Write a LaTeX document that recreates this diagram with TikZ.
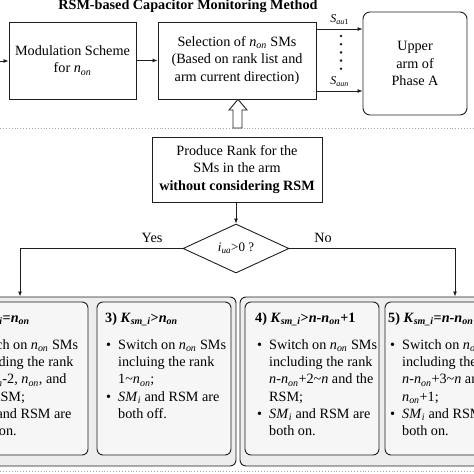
\documentclass[tikz,border=0pt]{standalone}
\usepackage{fontspec}
\setmainfont{Liberation Serif}
\usetikzlibrary{shapes.geometric,arrows.meta}
\definecolor{linec}{HTML}{1E1E1E}
\definecolor{outerfill}{HTML}{EDEDED}
\definecolor{innerfill}{HTML}{F6F6F6}
\newcommand{\nOn}{\textit{n}\textsubscript{\textit{on}}}
\newcommand{\SMi}{\textit{SM}\textsubscript{\textit{i}}}
\newcommand{\Ksm}{\textit{K}\textsubscript{\textit{sm\_i}}}
\newcommand{\tld}{\textasciitilde}
\newcommand{\blist}[1]{\begin{tabular}{@{}l@{\hspace{7pt}}l@{}}#1\end{tabular}}
\begin{document}
\begin{tikzpicture}[x=1pt,y=-1pt,
  font=\fontsize{14.2}{17.3}\selectfont,
  box/.style={draw=linec,line width=0.9pt,align=center,inner sep=0pt},
  arr/.style={draw=linec,line width=0.8pt,-{Latex[length=5pt,width=4pt]}},
  panel/.style={draw=linec,line width=0.9pt,rounded corners=6pt,fill=outerfill,inner sep=0pt},
  casebox/.style={draw=linec,line width=0.9pt,rounded corners=6pt,fill=innerfill,inner sep=0pt,minimum width=134pt,minimum height=153pt},
  head/.style={anchor=base west,inner sep=0pt},
  blt/.style={anchor=north west,inner sep=0pt,align=left},
  sep/.style={draw=gray!70,dotted,line width=0.9pt}]
\useasboundingbox (0,0) rectangle (474,474);
\clip (0,0) rectangle (474,474);

% title
\node[anchor=base,inner sep=0pt] (title) at (188,9) {\textbf{RSM-based Capacitor Monitoring Method}};

% top row
\coordinate (in) at (-2,61);
\node[box,minimum width=127pt,minimum height=77pt] (mod) at (72.5,60.5) {Modulation Scheme\\for \nOn};
\node[box,minimum width=158pt,minimum height=77pt] (sel) at (237,60.5) {Selection of \nOn{} SMs\\(Based on rank list and\\arm current direction)};
\node[box,rounded corners=7pt,minimum width=104pt,minimum height=103pt] (arm) at (415,63.5) {Upper\\arm of\\Phase A};
\draw[arr] (in) -- (mod.west |- in);
\draw[arr] (mod.east) -- (sel.west);
\coordinate (s1) at (340,29);
\coordinate (sn) at (340,91);
\draw[arr] (sel.east |- s1) -- (arm.west |- s1) node[pos=0.5,above=0.5pt,font=\fontsize{12}{14}\selectfont] (l1) {\textit{S}\textsubscript{\textit{au}1}};
\draw[arr] (sel.east |- sn) -- (arm.west |- sn) node[pos=0.5,above=0.5pt,font=\fontsize{12}{14}\selectfont] (ln) {\textit{S}\textsubscript{\textit{aun}}};
\foreach \yy in {36,44.2,52.4,60.6,68.8}
  \fill[linec] (341,\yy) circle (1.4pt);

% separator lines
\draw[sep] (0,128) -- (474,128);
\draw[sep] (0,471) -- (474,471);

% hollow arrow
\draw[linec,line width=0.9pt,fill=white]
  ([xshift=-4pt]sel.south |- 0,128) -- ([xshift=-4pt]sel.south |- 0,110) -- ([xshift=-8pt]sel.south |- 0,110)
  -- ([xshift=1pt]sel.south) -- ([xshift=10pt]sel.south |- 0,110) -- ([xshift=5pt]sel.south |- 0,110)
  -- ([xshift=5pt]sel.south |- 0,128) -- cycle;

% rank + decision
\node[box,minimum width=170pt,minimum height=65pt] (rank) at (237,169.5) {Produce Rank for the\\SMs in the arm\\\textbf{without considering RSM}};
\node[box,shape=diamond,minimum width=106pt,minimum height=49pt,font=\fontsize{13}{15}\selectfont] (dia) at (236,248.5) {\textit{i}\textsubscript{\textit{ua}}>0 ?};
\draw[arr] (rank.south -| dia.north) -- (dia.north);
\coordinate (yesend) at (20,296.5);
\coordinate (noend) at (455,296.5);
\draw[arr] (dia.west) -| (yesend);
\draw[arr] (dia.east) -| (noend);
\node[inner sep=0pt] (yes) at (152,238) {Yes};
\node[inner sep=0pt] (no) at (323,238) {No};

% panels
\node[panel,minimum width=289pt,minimum height=169pt] (lg) at (91.5,381.5) {};
\node[panel,minimum width=284pt,minimum height=169pt] (rg) at (382,381.5) {};
\node[casebox] (c2) at (21,378.5) {};
\node[casebox] (c3) at (164,378.5) {};
\node[casebox] (c4) at (312,378.5) {};
\node[casebox] (c5) at (452,378.5) {};

% case 2
\node[head] (h2) at (-43,322) {\textbf{2) \Ksm=\nOn}};
\node[blt] (b2) at (-42,337) {\blist{\textbullet & Switch on \nOn{} SMs\\ & including the rank\\ & 1\tld\nOn-2, \nOn, and\\ & the RSM;\\ \textbullet & \SMi{} and RSM are\\ & both on.}};
% case 3
\node[head] (h3) at (105,322) {\textbf{3) \Ksm>\nOn}};
\node[blt] (b3) at (106,337) {\blist{\textbullet & Switch on \nOn{} SMs\\ & incluing the rank\\ & 1\tld\nOn;\\ \textbullet & \SMi{} and RSM are\\ & both off.}};
% case 4
\node[head] (h4) at (255,322) {\textbf{4) \Ksm>\textit{n}-\nOn+1}};
\node[blt] (b4) at (257,337) {\blist{\textbullet & Switch on \nOn{} SMs\\ & including the rank\\ & \textit{n}-\nOn+2\tld\textit{n} and the\\ & RSM;\\ \textbullet & \SMi{} and RSM are\\ & both on.}};
% case 5
\node[head] (h5) at (388,322) {\textbf{5) \Ksm=\textit{n}-\nOn+1}};
\node[blt] (b5) at (390,337) {\blist{\textbullet & Switch on \nOn{} SMs\\ & including the rank\\ & \textit{n}-\nOn+3\tld\textit{n} and \textit{n}-\\ & \nOn+1;\\ \textbullet & \SMi{} and RSM are\\ & both on.}};
\end{tikzpicture}
\end{document}
